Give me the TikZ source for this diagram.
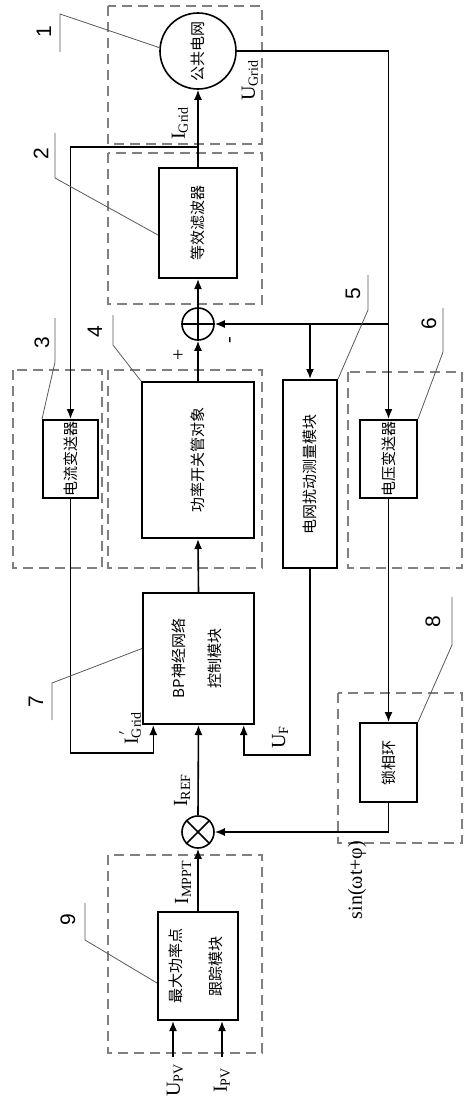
\documentclass[tikz,border=0pt]{standalone}
\usepackage{fontspec}
\newfontfamily\cjk{Noto Sans CJK SC}
\newfontfamily\lab{Liberation Serif}
\newfontfamily\num{Liberation Sans}
\usetikzlibrary{positioning, arrows.meta, calc}

\newcommand{\rot}[1]{\rotatebox{90}{#1}}

\begin{document}
\begin{tikzpicture}[x=0.5pt, y=-0.5pt,
		every node/.style={inner sep=1pt},
		blk/.style={draw, line width=1pt, inner sep=0pt, font=\cjk\fontsize{7.5}{10}\selectfont, align=center},
		joint/.style={draw, circle, line width=0.8pt, minimum size=16pt, inner sep=0pt},
		grp/.style={draw=gray, dash pattern=on 5pt off 3pt, line width=0.6pt},
		lead/.style={draw=gray!70!black, line width=0.4pt},
		wire/.style={line width=0.8pt},
		arr/.style={wire, -{Latex[length=5pt,width=4pt]}},
		tag/.style={font=\num\fontsize{10.5}{12}\selectfont, rotate=90},
		sig/.style={font=\lab\fontsize{10}{12}\selectfont, rotate=90}]
		\useasboundingbox (0,0) rectangle (474,1105);

		% Dashed groups
		\draw[grp] (108,6) rectangle (262,144);
		\draw[grp] (108,153) rectangle (262,304);
		\draw[grp] (13,370) rectangle (102,568);
		\draw[grp] (108,370) rectangle (262,568);
		\draw[grp] (348,372) rectangle (462,568);
		\draw[grp] (338,693) rectangle (462,843);
		\draw[grp] (108,855) rectangle (262,1053);

		% Blocks
		\node[joint, minimum size=38pt, font=\cjk\fontsize{7.5}{10}\selectfont] (grid) at (198,51) {\rot{公共电网}};
		\node[blk, minimum width=39pt, minimum height=55pt] (filter) at (198,223) {\rot{等效滤波器}};
		\node[joint] (sum) at (198,324) {};
		\node[blk, minimum width=56pt, minimum height=78pt] (power) at (198,460) {\rot{功率开关管对象}};
		\node[blk, minimum width=27.5pt, minimum height=39pt] (ct) at (70.5,459) {\rot{电流变送器}};
		\node[blk, minimum width=27pt, minimum height=94pt] (dist) at (310,474) {\rot{电网扰动测量模块}};
		\node[blk, minimum width=28.5pt, minimum height=39pt] (vt) at (388.5,459) {\rot{电压变送器}};
		\node[blk, minimum width=55.5pt, minimum height=65.5pt] (bp) at (198.5,658.5) {\rot{\begin{tabular}{@{}c@{}}BP神经网络\\[8pt]控制模块\end{tabular}}};
		\node[blk, minimum width=28.5pt, minimum height=39.5pt] (pll) at (388.5,762.5) {\rot{锁相环}};
		\node[joint] (mult) at (198,832) {};
		\node[blk, minimum width=40pt, minimum height=54pt] (mppt) at (198,966) {\rot{\begin{tabular}{@{}c@{}}最大功率点\\[10pt]跟踪模块\end{tabular}}};

		% Junction marks
		\draw[wire] (sum.north) -- (sum.south) (sum.west) -- (sum.east);
		\draw[wire] (mult.45) -- (mult.225) (mult.135) -- (mult.315);

		% Branch points and inputs
		\coordinate (tap) at (198,147);
		\coordinate (vtap) at (vt.north |- sum.east);
		\coordinate (dtap) at (dist.north |- sum.east);
		\coordinate (bpi) at ($(bp.south west)!0.1!(bp.south east)$);
		\coordinate (bpu) at ($(bp.south west)!0.9!(bp.south east)$);
		\coordinate (upv) at (173,1057);
		\coordinate (ipv) at (222,1057);

		% Signal paths
		\draw[arr] (filter.north) -- (grid.south);
		\draw[arr] (grid.east) -| (vt.north);
		\draw[arr] (tap) -| (ct.north);
		\draw[arr] (sum.north) -- (filter.south);
		\draw[arr] (power.north) -- (sum.south);
		\draw[arr] (vtap) -- (sum.east);
		\draw[arr] (dtap) -- (dist.north);
		\draw[arr] (bp.north) -- (power.south);
		\draw[arr] (ct.south) -- (ct.south |- 0,753) -| (bpi);
		\draw[arr] (dist.south) -- (dist.south |- 0,755) -| (bpu);
		\draw[arr] (vt.south) -- (pll.north);
		\draw[arr] (pll.south) |- (mult.east);
		\draw[arr] (mult.north) -- (bp.south);
		\draw[arr] (mppt.north) -- (mult.south);
		\draw[arr] (upv) -- (upv |- mppt.south);
		\draw[arr] (ipv) -- (ipv |- mppt.south);

		% Signal labels
		\node[sig] (lig) at (180,123) {I\textsubscript{Grid}};
		\node[sig] (lug) at (250,80) {U\textsubscript{Grid}};
		\node[sig] (lif) at (130,728) {I\rlap{\textsuperscript{\,$'$}}\textsubscript{Grid}};
		\node[sig] (luf) at (280,737) {U\textsubscript{F}};
		\node[sig] (lref) at (182,790) {I\textsubscript{REF}};
		\node[sig] (lmppt) at (183,882) {I\textsubscript{MPPT}};
		\node[sig] (lsin) at (357,880) {sin(ωt+φ)};
		\node[sig] (lupv) at (175,1080) {U\textsubscript{PV}};
		\node[sig] (lipv) at (222,1080) {I\textsubscript{PV}};
		\node[sig] (lplus) at (179,355) {+};
		\node[sig] (lminus) at (232,340) {-};

		% Reference numbers
		\node[tag] (n1) at (44,32) {1};
		\node[tag] (n2) at (41,154) {2};
		\node[tag] (n3) at (42,343) {3};
		\node[tag] (n4) at (95,332) {4};
		\node[tag] (n5) at (353,294) {5};
		\node[tag] (n6) at (429,324) {6};
		\node[tag] (n7) at (36,702) {7};
		\node[tag] (n8) at (433,622) {8};
		\node[tag] (n9) at (68,920) {9};
		\draw[lead] (60,52) -- (60,14) -- (grid.175);
		\draw[lead] (55,133) -- (55,178) -- ($(filter.west)+(0,12)$);
		\draw[lead] (55,318) -- (55,362) -- (ct.north west);
		\draw[lead] (113,315) -- (113,345) -- (power.north west);
		\draw[lead] (368,275) -- (368,310) -- (dist.north east);
		\draw[lead] (443,308) -- (443,352) -- (vt.north east);
		\draw[lead] (52,720) -- (52,683) -- ($(bp.west)+(0,-10)$);
		\draw[lead] (452,597) -- (452,645) -- (pll.north east);
		\draw[lead] (85,903) -- (85,940) -- ($(mppt.west)+(0,17)$);
	\end{tikzpicture}
\end{document}
